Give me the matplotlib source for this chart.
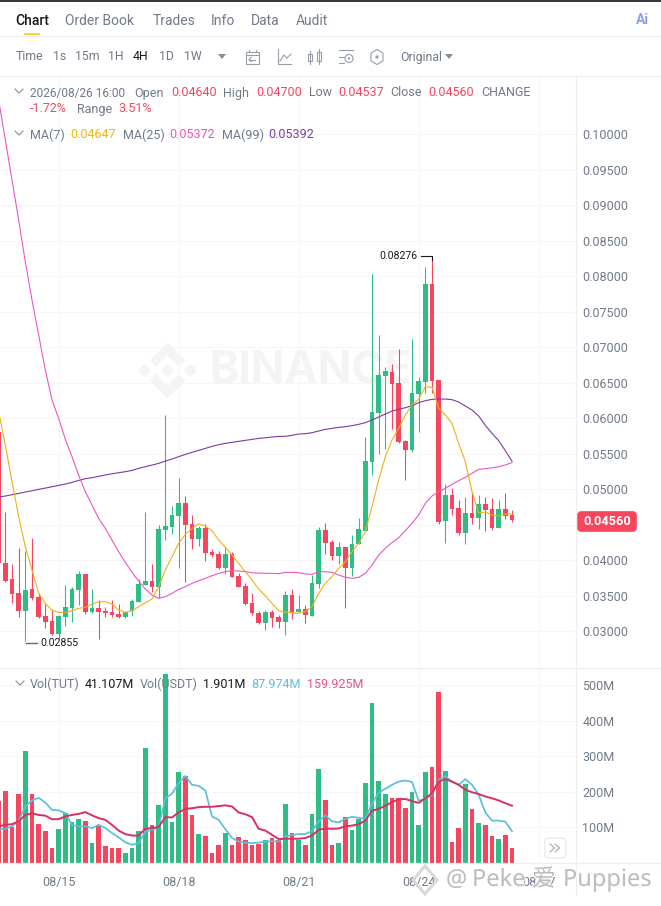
import numpy as np
import matplotlib
matplotlib.use("Agg")
import matplotlib.pyplot as plt
from matplotlib.patches import Polygon, FancyBboxPatch, Rectangle, Circle
import matplotlib.patheffects as pe

plt.rcParams['font.family'] = ['Roboto', 'DejaVu Sans']

# candle values, thousandths of USDT; first candle is clipped by the left edge
opens = [58.07,39.52,37.27,35.39,32.81,35.86,34.74,32.11,31.40,29.57,32.01,33.23,35.77,38.02,32.67,33.23,32.86,32.62,32.39,31.97,32.76,34.08,36.47,37.04,36.24,44.27,44.64,46.19,48.07,45.02,43.00,44.50,41.12,40.84,38.91,40.84,37.74,36.33,33.89,32.57,31.12,32.72,32.01,31.26,35.07,32.63,33.10,32.16,36.66,44.22,42.53,40.61,41.83,38.83,42.20,44.13,53.85,60.75,65.96,66.52,64.88,56.76,55.54,63.43,65.12,78.87,65.35,45.49,49.11,47.32,43.75,46.66,45.91,47.89,47.23,44.55,47.18,46.40]
closes = [39.52,37.04,35.25,32.76,35.77,34.60,31.97,31.31,29.57,32.11,33.42,35.96,38.07,32.67,33.23,32.67,32.53,32.25,31.97,32.67,34.27,36.57,37.04,36.24,44.36,44.74,46.33,48.07,44.92,42.95,44.45,40.98,40.70,38.91,40.84,37.65,36.24,33.80,32.48,31.12,32.72,31.87,31.21,35.07,32.72,33.10,32.20,36.81,44.22,42.44,40.61,41.83,38.87,42.25,44.32,53.94,60.80,66.06,66.62,64.79,56.62,55.49,63.47,65.21,78.87,65.21,45.40,49.11,47.18,43.75,46.66,45.91,47.89,47.09,44.55,47.18,46.24,45.60]
highs = [60.00,46.71,39.38,41.64,41.31,43.05,35.39,33.80,32.95,32.25,36.47,36.24,38.40,38.07,35.91,34.36,33.33,34.36,33.80,32.86,34.45,37.32,46.71,39.38,44.92,60.42,47.60,51.50,49.01,46.33,44.78,45.07,41.50,41.31,41.87,41.17,38.21,36.71,35.39,32.86,32.95,32.95,32.25,35.63,35.91,35.07,33.66,37.89,44.60,45.16,42.82,42.49,41.83,43.52,45.87,57.37,80.28,71.69,67.23,67.56,69.72,56.90,71.13,65.73,81.22,82.76,65.35,50.70,50.09,48.45,48.92,49.62,49.11,48.92,48.68,48.40,49.39,47.00]
lows = [39.30,36.85,33.98,32.01,28.55,34.36,31.78,30.46,29.43,28.87,30.70,31.31,33.66,32.39,32.48,28.82,31.92,31.92,31.78,31.87,32.11,34.03,36.47,35.53,34.60,42.81,43.66,38.82,36.90,41.54,41.97,39.85,40.37,38.73,38.02,37.55,36.14,33.66,32.25,30.98,30.13,30.60,30.46,29.43,31.64,32.63,31.08,32.16,36.01,40.80,40.00,39.43,33.29,37.79,42.20,44.13,52.02,54.93,55.63,58.40,56.43,51.27,55.16,58.03,63.47,63.47,45.02,42.44,46.34,43.57,42.30,45.02,44.41,44.03,44.22,44.55,45.77,45.37]

ma7 = [60.90,56.19,51.03,46.10,41.87,38.59,35.30,33.89,32.95,32.62,32.62,32.86,33.19,33.33,33.80,34.12,34.12,33.80,32.95,32.62,32.86,33.42,33.98,34.50,36.24,38.59,40.46,42.34,43.61,44.45,45.07,44.78,44.13,42.81,41.78,40.70,39.52,38.35,37.18,35.91,34.97,33.89,32.86,32.67,32.57,32.48,32.72,33.42,35.30,36.71,37.65,38.83,39.76,41.17,42.35,43.99,47.51,51.27,54.55,56.90,58.54,60.42,61.83,62.63,64.41,64.32,61.36,60.42,59.25,56.43,53.85,49.62,46.66,46.76,46.34,46.20,46.48,46.47]
ma25 = [104.79,99.15,93.52,87.89,81.97,76.62,71.69,66.76,62.53,59.95,56.99,54.55,51.97,49.62,47.74,45.86,44.45,42.81,41.17,39.67,38.26,37.04,35.91,35.06,34.60,34.83,35.30,35.86,36.24,36.71,37.08,37.41,37.79,38.12,38.35,38.49,38.45,38.35,38.21,38.16,38.12,38.12,38.07,38.26,38.26,38.21,38.03,37.98,38.35,38.35,38.26,37.89,37.56,37.42,37.56,38.12,39.29,40.70,41.64,42.44,43.14,44.13,45.16,46.34,47.98,49.01,49.62,50.09,50.66,51.17,51.64,52.20,52.77,52.86,53.00,53.14,53.38,53.72]
ma99 = [48.87,49.01,49.20,49.38,49.57,49.76,49.95,50.13,50.32,50.51,50.70,50.93,51.21,51.45,51.59,51.78,51.97,52.15,52.29,52.44,52.62,52.91,53.14,53.37,53.61,53.94,54.22,54.55,54.88,55.16,55.44,55.72,56.00,56.24,56.43,56.57,56.71,56.85,56.99,57.13,57.22,57.32,57.41,57.42,57.56,57.74,57.79,57.93,58.17,58.40,58.54,58.68,58.78,58.92,59.11,59.34,59.72,60.14,60.56,60.98,61.22,61.45,61.74,62.16,62.44,62.63,62.67,62.67,62.58,62.25,61.69,61.13,60.28,58.96,57.84,56.81,55.40,53.92]

# volume, millions
volumes = [172,202,100,193,313,194,108,88,41,95,139,113,124,116,55,102,46,42,40,28,41,88,323,106,163,530,113,256,243,134,81,75,26,50,82,48,72,64,50,51,64,70,64,164,83,64,48,137,264,175,50,56,129,92,123,223,450,230,194,181,181,154,198,105,255,270,481,259,57,96,222,151,112,107,75,67,77,41.1]
vol_ma_short = [94,95,102,118,158,175,182,169,148,147,139,106,102,102,97,106,97,83,71,57,50,55,87,92,100,181,194,224,244,219,216,203,130,120,94,69,59,56,55,56,59,60,59,73,78,80,80,89,116,133,116,113,123,129,126,123,167,196,208,219,228,231,227,174,180,191,233,244,228,219,235,219,191,141,118,118,115,88]
vol_ma_long = [102,106,108,116,134,139,134,132,122,122,130,134,137,142,133,125,120,106,90,80,76,76,95,97,100,128,127,141,151,153,156,157,157,159,161,158,141,136,128,95,90,78,66,67,67,67,69,76,92,96,95,96,102,104,108,118,146,151,160,170,178,179,173,168,181,195,228,235,228,219,205,198,193,186,181,175,167,160]

# the 0.04500 tick is hidden behind the last-price tag in the reference
price_ticks = [0.10, 0.095, 0.09, 0.085, 0.08, 0.075, 0.07, 0.065, 0.06, 0.055, 0.05, 0.04, 0.035, 0.03]
vol_ticks = [100, 200, 300, 400, 500]
date_pos = [9, 27, 45, 63, 81]       # candle positions (0 = first, clipped candle)
date_labels = ['08/15', '08/18', '08/21', '08/24', '08/27']

tabs = [('Chart', 15, '#181a20'), ('Order Book', 65, '#707a8a'), ('Trades', 153, '#707a8a'),
        ('Info', 211, '#707a8a'), ('Data', 251, '#707a8a'), ('Audit', 296, '#707a8a')]
intervals = [('Time', 16, '#707a8a'), ('1s', 53, '#707a8a'), ('15m', 75, '#707a8a'), ('1H', 108, '#707a8a'),
             ('4H', 133, '#181a20'), ('1D', 159, '#707a8a'), ('1W', 184, '#707a8a'), ('Original', 400, '#707a8a')]

GREEN, RED = '#2ebd85', '#f6465d'
GREY = '#707a8a'
W, H = 661, 906
STEP = 20 / 3

fig = plt.figure(figsize=(W / 100, H / 100), dpi=100, facecolor='white')


def rect(l, t, r, b):
    return [l / W, 1 - b / H, (r - l) / W, (b - t) / H]


ax = fig.add_axes(rect(0, 76, 576, 667))
av = fig.add_axes(rect(0, 667, 576, 862.5))
ui = fig.add_axes([0, 0, 1, 1], zorder=10)
ui.set_xlim(0, W)
ui.set_ylim(H, 0)
ui.axis('off')
ui.patch.set_alpha(0)

o, c, h, l = [np.array(v) / 1000 for v in (opens, closes, highs, lows)]
x = np.arange(len(o))
up = c >= o
cols = np.where(up, GREEN, RED)
# first candle sits at pixel -1.33
x0 = 1.33 / STEP
xlim = (x0, x0 + 576 / STEP)

ax.vlines(x, l, h, colors=cols, lw=0.78, zorder=3)
ax.bar(x, np.abs(c - o), bottom=np.minimum(o, c), width=0.7, color=cols, zorder=4, linewidth=0)
ax.plot(x, np.array(ma99) / 1000, color='#7b3aa6', lw=0.8, zorder=5)
ax.plot(x, np.array(ma25) / 1000, color='#ee55c4', lw=0.8, zorder=5)
ax.plot(x, np.array(ma7) / 1000, color='#f0b018', lw=0.8, zorder=6)
ax.set_xlim(*xlim)
ax.set_ylim(0.02493, 0.10817)
ax.yaxis.tick_right()
ax.set_yticks(price_ticks)
ax.set_yticklabels([f'{t:.5f}' for t in price_ticks])
ax.set_yticks([0.045], minor=True)
ax.set_xticks(date_pos)
ax.tick_params(axis='x', length=0, labelbottom=False)
ax.tick_params(axis='y', which='both', length=0, pad=4.5, labelsize=9.0, labelcolor=GREY)
ax.grid(True, which='both', color='#f6f6f6', lw=0.8, zorder=0)
ax.set_axisbelow(True)

av.bar(x, volumes, width=0.7, color=cols, zorder=3, linewidth=0)
av.plot(x, vol_ma_short, color='#5bbfdc', lw=1.25, zorder=4)
av.plot(x, vol_ma_long, color='#d92f63', lw=1.4, zorder=5)
av.set_xlim(*xlim)
av.set_ylim(0, 551)
av.yaxis.tick_right()
av.set_yticks(vol_ticks)
av.set_yticklabels([f'{t}M' for t in vol_ticks])
av.set_xticks(date_pos)
av.set_xticklabels(date_labels)
av.tick_params(axis='y', length=0, pad=4.5, labelsize=9.0, labelcolor=GREY)
av.tick_params(axis='x', length=0, pad=9.5, labelsize=9.0, labelcolor=GREY)
av.grid(True, color='#f6f6f6', lw=0.8, zorder=0)
av.set_axisbelow(True)

for a in (ax, av):
    for s in a.spines.values():
        s.set_visible(False)

# ---------- BINANCE watermark behind the price chart ----------
wm = '#f4f4f4'
ax.text(209, 371, 'BINANCE', transform=ui.transData, color=wm, fontsize=32, fontweight='bold',
        va='center', ha='left', zorder=1, family='Inter')
cx, cy = 167.5, 370.5
marks = [
    [(cx - 6.5, cy), (cx, cy - 6.5), (cx + 6.5, cy), (cx, cy + 6.5)],
    [(cx - 29.5, cy), (cx - 23, cy - 6.5), (cx - 16.5, cy), (cx - 23, cy + 6.5)],
    [(cx + 16.5, cy), (cx + 23, cy - 6.5), (cx + 29.5, cy), (cx + 23, cy + 6.5)],
    [(cx - 18, cy - 10), (cx, cy - 28), (cx + 18, cy - 10), (cx + 11.5, cy - 3.5), (cx, cy - 15), (cx - 11.5, cy - 3.5)],
    [(cx - 18, cy + 10), (cx, cy + 28), (cx + 18, cy + 10), (cx + 11.5, cy + 3.5), (cx, cy + 15), (cx - 11.5, cy + 3.5)],
]
for pts in marks:
    ax.add_patch(Polygon(pts, transform=ui.transData, fc=wm, ec='none', zorder=1))

# ---------- chrome ----------
ui.add_patch(Rectangle((0, 0), W, 1.5, fc='#3a3a3a', ec='none'))
SEP = '#eeeeee'
ui.plot([0, W], [35.5, 35.5], color=SEP, lw=0.9)
ui.plot([0, W], [75.5, 75.5], color=SEP, lw=0.9)
ui.plot([0, W], [667.5, 667.5], color=SEP, lw=0.9)
ui.plot([0, W], [863, 863], color=SEP, lw=0.9)
ui.plot([576, 576], [76, 895], color=SEP, lw=0.9)
ui.add_patch(Rectangle((24, 32.5), 16, 2.5, fc='#fcd535', ec='none'))
for s, px, col in tabs:
    ui.text(px, 21, s, color=col, fontsize=10, va='center', ha='left', fontweight='medium' if s == 'Chart' else 'normal')
for s, px, col in intervals:
    ui.text(px, 57, s, color=col, fontsize=8.8, va='center', ha='left')
ui.text(642, 20, 'Ai', color='#8aa0ee', fontsize=10, fontweight='bold', va='center', ha='center')


def tri(cxp, cyp, col='#848e9c'):
    ui.add_patch(Polygon([(cxp - 4, cyp - 2), (cxp + 4, cyp - 2), (cxp, cyp + 3)], fc=col, ec='none'))


tri(222, 56)
tri(449, 56)
ic = dict(color='#979fab', lw=0.8)
ec = '#979fab'
# calendar icon
ui.add_patch(Rectangle((246, 52), 13, 12, fc='none', ec=ec, lw=0.8))
ui.plot([246, 259], [55, 55], **ic); ui.plot([249, 249], [49.5, 52], **ic); ui.plot([256, 256], [49.5, 52], **ic)
ui.plot([249, 255], [59.5, 59.5], **ic); ui.plot([251.5, 249, 251.5], [57.5, 59.5, 61.5], **ic)
# line chart icon
ui.plot([278, 278, 291], [49, 63.5, 63.5], **ic)
ui.plot([280, 284, 287, 291], [61, 55, 58, 54], **ic)
# candle icon
for cxp, t, b in [(310, 53.5, 60.5), (319, 51.5, 61)]:
    ui.add_patch(Rectangle((cxp - 2, t), 4, b - t, fc='none', ec=ec, lw=0.8))
    ui.plot([cxp, cxp], [t - 3, b + 3], **ic)
# settings icon
ui.plot([339, 353], [49.5, 49.5], **ic); ui.plot([339, 344], [57, 57], **ic); ui.plot([339, 344], [63, 63], **ic)
ui.add_patch(Circle((349, 58.5), 4, fc='none', ec=ec, lw=0.8))
ui.add_patch(Circle((349, 58.5), 1.2, fc=ec, ec='none'))
# hexagon icon
ui.add_patch(Polygon([(377, 49.5), (383, 53), (383, 61), (377, 64.5), (371, 61), (371, 53)],
                     closed=True, fc='none', ec=ec, lw=0.8))
ui.add_patch(Circle((377, 57), 1.6, fc=ec, ec='none'))


def chevron(cxp, cyp):
    ui.plot([cxp - 4, cxp, cxp + 4], [cyp - 2, cyp + 2, cyp - 2], color='#848e9c', lw=0.8)


LS = 9.0
chevron(19, 91); chevron(19, 133); chevron(20, 683)
row1 = [('Open', 134, GREY), ('0.04640', 171, RED), ('High', 223, GREY),
        ('0.04700', 256, RED), ('Low', 309, GREY), ('0.04537', 338, RED), ('Close', 390, GREY),
        ('0.04560', 428, RED), ('CHANGE', 481, GREY)]
row2 = [('-1.72%', 30, RED), ('Range', 77, GREY), ('3.51%', 118, RED)]
row3 = [('MA(7)', 30, GREY), ('0.04647', 70, '#f0b90b'), ('MA(25)', 123, GREY), ('0.05372', 169, '#ee55c4'),
        ('MA(99)', 222, GREY), ('0.05392', 268, '#7b3aa6')]
row4 = [('Vol(TUT)', 30, GREY), ('41.107M', 85, '#181a20'), ('Vol(USDT)', 140, GREY), ('1.901M', 203, '#181a20'),
        ('87.974M', 251, '#5bbfdc'), ('159.925M', 307, '#e8557f')]
ui.text(30, 93, '2026/08/26 16:00', color=GREY, fontsize=8.6, va='center', ha='left')
for row, yp in ((row1, 93), (row2, 109), (row3, 135), (row4, 684)):
    for s, px, col in row:
        ui.text(px, yp, s, color=col, fontsize=LS, va='center', ha='left')

# high / low callouts
ui.plot([421, 432, 432], [256, 256, 260], color='#181a20', lw=0.8)
ui.text(417.5, 256, '0.08276', color='#181a20', fontsize=7.6, va='center', ha='right')
ui.plot([26, 37], [643, 643], color='#6a6a6a', lw=1.0)
ui.text(40.5, 643, '0.02855', color='#181a20', fontsize=7.6, va='center', ha='left')

# last price tag
ui.add_patch(FancyBboxPatch((578, 512), 58, 19, boxstyle='round,pad=0,rounding_size=3', fc=RED, ec=RED, lw=1.2))
ui.text(607, 521.5, '0.04560', color='white', fontsize=9.2, fontweight='bold', va='center', ha='center')

# scroll button
ui.add_patch(FancyBboxPatch((545, 838), 21, 20, boxstyle='round,pad=0,rounding_size=4', fc='white', ec='#e6e8ea', lw=0.9))
for dx in (0, 5):
    ui.plot([550 + dx, 554.5 + dx, 550 + dx], [844, 848, 852], color='#aab0b8', lw=0.9)

# bottom photo watermark
stroke = [pe.withStroke(linewidth=2.0, foreground='white', alpha=0.7)]
wmcol = '#bdbdbd'
for s, px in (('@', 446), ('Peke', 472), ('爱', 532), ('Puppies', 563)):
    ui.text(px, 880, s, color=wmcol, fontsize=17, va='center', ha='left',
            family=['Noto Sans', 'Noto Sans CJK SC'], path_effects=stroke)
cx, cy = 425, 880
ui.add_patch(Polygon([(cx - 12, cy), (cx, cy - 14), (cx + 12, cy), (cx, cy + 14)], closed=True, fc='none', ec='#d8d8d8', lw=2.2))

fig.savefig('out.png', dpi=100, facecolor='white')
